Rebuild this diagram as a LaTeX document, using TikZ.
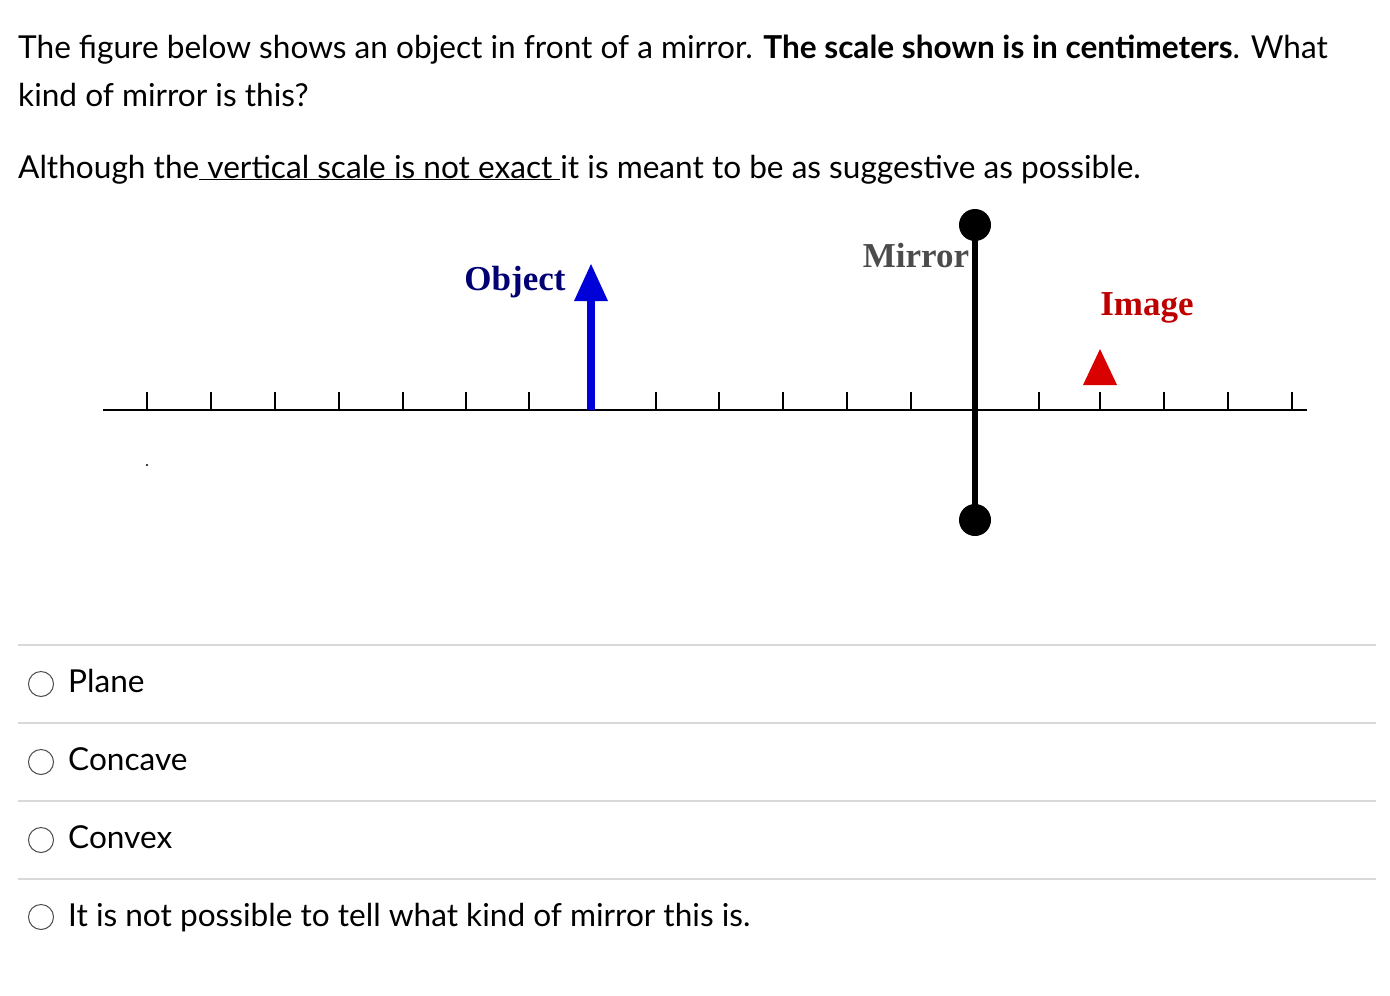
\documentclass[tikz,border=0pt]{standalone}
\usepackage{fontspec}
\setmainfont{Lato}
\newfontfamily\serifb{Liberation Serif}
\begin{document}
\begin{tikzpicture}[x=1pt,y=-1pt,
  txt/.style={anchor=base west,inner sep=0,font=\fontsize{31.6}{36}\selectfont},
  lbl/.style={inner sep=0,font=\serifb\bfseries\fontsize{35}{40}\selectfont},
  sep/.style={draw=black!15,line width=1.2pt},
  radio/.style={draw=black!70,circle,minimum size=25pt,inner sep=0,line width=1pt}]
\useasboundingbox (0,0) rectangle (1390,996);
\node[txt] (l1) at (18,58) {The figure below shows an object in front of a mirror. \textbf{The scale shown is in centimeters}. What};
\node[txt] (l2) at (18,106) {kind of mirror is this?};
\node[txt] (l3) at (18,178) {Although the\underline{\ vertical scale is not exact\ }it is meant to be as suggestive as possible.};
% axis
\coordinate (a0) at (103,410); \coordinate (a1) at (1307,410);
\draw[line width=1.5pt] (a0) -- (a1);
\foreach \x in {147,211,275,339,403,466,529,656,719,783,847,911,1039,1100,1164,1228,1292}
  \draw[line width=1.3pt] (\x,392) -- (\x,410);
\fill (147,465) circle (1.2);
% object
\coordinate (ob) at (591,410); \coordinate (ot) at (591,298);
\draw[blue!85!black,line width=8pt] (ob) -- (ot);
\fill[blue!85!black] (591,264) -- (608,301) -- (574,301) -- cycle;
\node[lbl,text=blue!45!black] (objl) at (515,282) {Object};
% mirror
\coordinate (mt) at (975,225); \coordinate (mb) at (975,520);
\draw[line width=6pt] (mt) -- (mb);
\fill (mt) circle (16); \fill (mb) circle (16);
\node[lbl,text=black!70] (mirl) at (916,256) {Mirror};
% image
\fill[red!85!black] (1100,349) -- (1117,385) -- (1083,385) -- cycle;
\node[lbl,text=red!75!black] (imgl) at (1147,308) {Image};
% options
\foreach \y in {645,723,801,879} \draw[sep] (18,\y) -- (1376,\y);
\node[radio] (r1) at (41,684) {}; \node[txt] (o1) at (68,692) {Plane};
\node[radio] (r2) at (41,762) {}; \node[txt] (o2) at (68,770) {Concave};
\node[radio] (r3) at (41,840) {}; \node[txt] (o3) at (68,848) {Convex};
\node[radio] (r4) at (41,917) {}; \node[txt] (o4) at (68,926) {It is not possible to tell what kind of mirror this is.};
\end{tikzpicture}
\end{document}
